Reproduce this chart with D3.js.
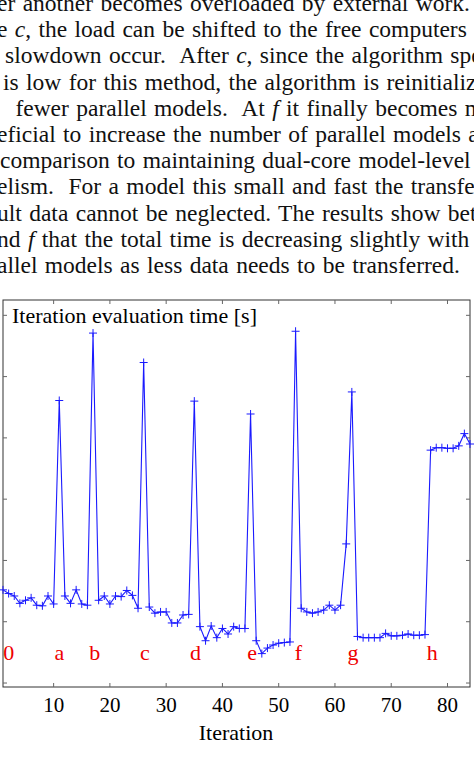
<!DOCTYPE html>
<html><head><meta charset="utf-8">
<script src="https://cdn.jsdelivr.net/npm/d3@7"></script>
<style>body{margin:0;background:#fff;overflow:hidden}svg{display:block}</style>
</head><body><svg id="c" width="474" height="758"></svg>
<script>
const paragraph = [
 "er another becomes overloaded by external work.  Be",
 "e c, the load can be shifted to the free computers and",
 "slowdown occur.  After c, since the algorithm speed",
 "is low for this method, the algorithm is reinitialized to",
 " fewer parallel models.  At f it finally becomes more",
 "eficial to increase the number of parallel models again",
 "comparison to maintaining dual-core model-level par",
 "elism.  For a model this small and fast the transfer of",
 "ult data cannot be neglected. The results show between",
 "nd f that the total time is decreasing slightly with fewer",
 "allel models as less data needs to be transferred."
];
const lineX = [-3,-3,5,3,8,-3,0,-3,-3,-3,-3];
const iterations = d3.range(1,85);
const times = [1.52,1.46,1.42,1.30,1.35,1.39,1.27,1.26,1.42,1.29,
 4.61,1.42,1.30,1.52,1.29,1.27,5.71,1.35,1.42,1.29,
 1.42,1.41,1.51,1.43,1.22,5.23,1.24,1.14,1.16,1.16,
 0.98,0.98,1.11,1.12,4.60,0.92,0.69,0.93,0.74,0.89,
 0.80,0.92,0.89,0.89,4.39,0.69,0.48,0.57,0.62,0.65,
 0.66,0.67,5.74,1.22,1.16,1.14,1.16,1.19,1.27,1.19,
 1.27,2.27,4.75,0.76,0.74,0.74,0.74,0.74,0.81,0.77,
 0.77,0.78,0.80,0.78,0.78,0.79,3.80,3.84,3.84,3.83,
 3.83,3.87,4.07,3.90];
const xTicks = [10,20,30,40,50,60,70,80];
const yTicks = [0,1,2,3,4,5,6];
const phaseLabels = ["0","a","b","c","d","e","f","g","h"];
const phaseIter = [2,11,17.3,26.2,35.2,45.3,53.5,63.2,77.3];

const svg = d3.select("#c");
const font = "'Liberation Serif','DejaVu Serif',serif";
const L=3,R=470,T=300,B=687;
const x = d3.scaleLinear().domain([1,84]).range([L,R]);
const y = d3.scaleLinear().domain([-0.065,6.25]).range([B,T]);

const tg = svg.append("g").attr("font-family",font).attr("font-size",23.5).attr("fill","#111");
paragraph.forEach((t,i)=>{
  const txt = tg.append("text").attr("x",lineX[i]).attr("y",11+26.2*i).attr("xml:space","preserve")
    .attr("word-spacing",1.5);
  t.split(/\b(c|f)\b(?=[ ,])/).forEach((p,j)=>{
    const s = txt.append("tspan").text(p);
    if(j%2===1) s.attr("font-style","italic");
  });
});

const g = svg.append("g");
g.append("rect").attr("x",L).attr("y",T).attr("width",R-L).attr("height",B-T)
 .attr("fill","none").attr("stroke","#333").attr("stroke-width",1);
const tl=4;
xTicks.forEach(v=>{
  g.append("line").attr("x1",x(v)).attr("x2",x(v)).attr("y1",B).attr("y2",B-tl).attr("stroke","#666");
  g.append("line").attr("x1",x(v)).attr("x2",x(v)).attr("y1",T).attr("y2",T+tl).attr("stroke","#666");
  g.append("text").attr("x",x(v)).attr("y",712).attr("text-anchor","middle")
   .attr("font-family",font).attr("font-size",21).text(v);
});
yTicks.forEach(v=>{
  g.append("line").attr("x1",L).attr("x2",L+tl).attr("y1",y(v)).attr("y2",y(v)).attr("stroke","#666");
  g.append("line").attr("x1",R).attr("x2",R-tl).attr("y1",y(v)).attr("y2",y(v)).attr("stroke","#666");
});
g.append("text").attr("x",236).attr("y",740).attr("text-anchor","middle")
 .attr("font-family",font).attr("font-size",22).text("Iteration");
g.append("text").attr("x",12).attr("y",323)
 .attr("font-family",font).attr("font-size",22).text("Iteration evaluation time [s]");

const line = d3.line().x((d,i)=>x(iterations[i])).y(d=>y(d));
g.append("path").datum(times).attr("d",line).attr("fill","none").attr("stroke","#1a1aff").attr("stroke-width",1.1);
const m=4;
times.forEach((v,i)=>{
  const cx=x(iterations[i]), cy=y(v);
  g.append("path").attr("d",`M${cx-m},${cy}H${cx+m}M${cx},${cy-m}V${cy+m}`)
   .attr("stroke","#1a1aff").attr("stroke-width",1);
});
phaseLabels.forEach((t,i)=>{
  g.append("text").attr("x",x(phaseIter[i])).attr("y",660).attr("text-anchor","middle")
   .attr("font-family",font).attr("font-size",22).attr("fill","#e00").text(t);
});
</script></body></html>
